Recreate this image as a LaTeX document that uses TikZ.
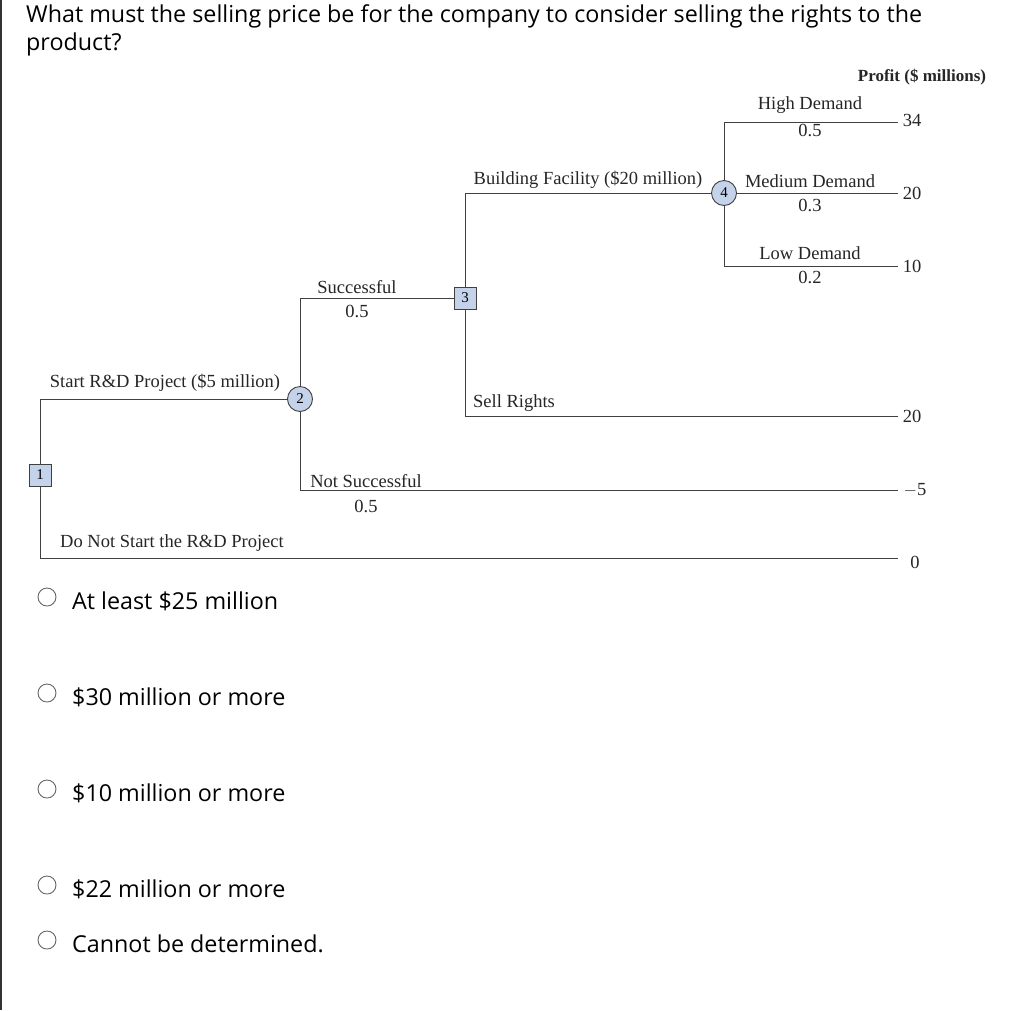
\documentclass[tikz,border=0pt]{standalone}
\usepackage{fontspec}
\setmainfont{Liberation Serif}
\newfontfamily\qfont{Open Sans}
\definecolor{nodefill}{RGB}{196,211,234}
\begin{document}
\begin{tikzpicture}[x=1pt,y=-1pt,
  br/.style={draw=black!75,line width=1pt},
  lbl/.style={font=\fontsize{18.5}{19}\selectfont,text=black!85,inner sep=0},
  sq/.style={draw=black!75,fill=nodefill,minimum size=22pt,inner sep=0,font=\fontsize{15}{15}\selectfont,line width=0.9pt},
  cr/.style={circle,draw=black!75,fill=nodefill,minimum size=25pt,inner sep=0,font=\fontsize{15}{15}\selectfont,line width=0.9pt},
  q/.style={font=\qfont\fontsize{23.3}{28}\selectfont,inner sep=0,anchor=west},
  rad/.style={draw=black!60,line width=0.9pt,circle,minimum size=18pt,inner sep=0}]
\useasboundingbox (0,0) rectangle (1022,1010);
\fill[white] (0,0) rectangle (1022,1010);
\draw[black!80,line width=2pt] (1,0) -- (1,1010);
\node[q,align=left,anchor=north west] (qt) at (26,4) {What must the selling price be for the company to consider selling the rights to the\\product?};
% nodes
\node[sq] (n1) at (40,475) {1};
\node[cr] (n2) at (300,399) {2};
\node[sq] (n3) at (465,298) {3};
\node[cr] (n4) at (724,193) {4};
\coordinate (e1) at (898,122);
\coordinate (e2) at (898,193);
\coordinate (e3) at (898,266);
\coordinate (e4) at (898,416);
\coordinate (e5) at (898,490);
\coordinate (e6) at (898,558);
% branches
\draw[br] (n1) |- (n2);
\draw[br] (n1) |- (e6);
\draw[br] (n2) |- (n3);
\draw[br] (n2) |- (e5);
\draw[br] (n3) |- (n4);
\draw[br] (n3) |- (e4);
\draw[br] (n4) |- (e1);
\draw[br] (n4) -- (e2);
\draw[br] (n4) |- (e3);
% labels
\node[lbl,font=\bfseries\fontsize{17}{18}\selectfont] (ph) at (922,77) {Profit (\$ millions)};
\node[lbl] at (810,105) {High Demand};
\node[lbl] at (810,130) {0.5};
\node[lbl] at (810,181) {Medium Demand};
\node[lbl] at (810,205) {0.3};
\node[lbl] at (810,253) {Low Demand};
\node[lbl] at (810,277) {0.2};
\node[lbl] at (912,120) {34};
\node[lbl] at (912,193) {20};
\node[lbl] at (912,266) {10};
\node[lbl] at (912,416) {20};
\node[lbl] at (915,490) {$-$5};
\node[lbl] at (915,562) {0};
\node[lbl] at (588,180) {Building Facility (\$20 million)};
\node[lbl] at (357,287) {Successful};
\node[lbl] at (357,311) {0.5};
\node[lbl] at (165,383) {Start R\&D Project (\$5 million)};
\node[lbl,anchor=west] at (473,403) {Sell Rights};
\node[lbl] at (366,481) {Not Successful};
\node[lbl] at (366,506) {0.5};
\node[lbl] at (172,543) {Do Not Start the R\&D Project};
% options
\node[rad] (r1) at (47,597) {};
\node[rad] (r2) at (47,693) {};
\node[rad] (r3) at (47,789) {};
\node[rad] (r4) at (47,885) {};
\node[rad] (r5) at (47,940) {};
\node[q] at (72,601) {At least \$25 million};
\node[q] at (72,697) {\$30 million or more};
\node[q] at (72,793) {\$10 million or more};
\node[q] at (72,889) {\$22 million or more};
\node[q] at (72,944) {Cannot be determined.};
\end{tikzpicture}
\end{document}
